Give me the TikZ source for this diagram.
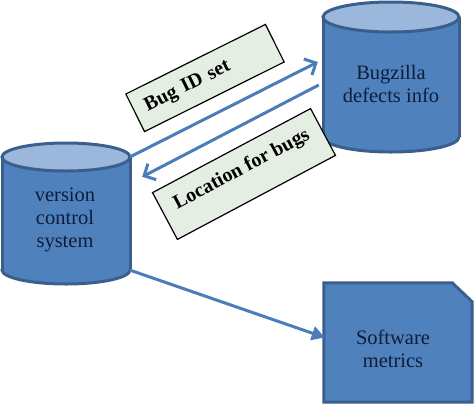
\documentclass[tikz,border=0pt]{standalone}
\usepackage{fontspec}
\setmainfont{Liberation Serif}
\usetikzlibrary{arrows.meta,calc}
\definecolor{cylbody}{HTML}{4F81BD}
\definecolor{cyltop}{HTML}{9BB7DB}
\definecolor{cylline}{HTML}{3A5F8C}
\definecolor{arrowc}{HTML}{4A7EBB}
\definecolor{lblfill}{HTML}{E4EEE2}
\definecolor{txtc}{HTML}{0F1D38}
\newcommand\drawcyl[5]{% cx, rx, ytop, ybot, ry
  \filldraw[outl,fill=cylbody] (#1,#4) ellipse [x radius=#2pt,y radius=#5pt];
  \fill[cylbody] ($(#1,#3)+(-#2,0)$) rectangle ($(#1,#4)+(#2,0)$);
  \draw[outl] ($(#1,#3)+(-#2,0)$) -- ($(#1,#4)+(-#2,0)$);
  \draw[outl] ($(#1,#3)+(#2,0)$) -- ($(#1,#4)+(#2,0)$);
  \filldraw[outl,fill=cyltop] (#1,#3) ellipse [x radius=#2pt,y radius=#5pt];
}
\begin{document}
\begin{tikzpicture}[x=1pt,y=-1pt,
  outl/.style={draw=cylline,line width=3pt},
  flow/.style={draw=arrowc,line width=3pt,-{Straight Barb[length=9pt,width=18pt]}},
  flowtri/.style={draw=arrowc,line width=3pt,-{Triangle[length=13pt,width=14pt]}},
  lbl/.style={draw=black,line width=1.2pt,fill=lblfill,inner ysep=0pt,
    font=\fontsize{20}{23}\selectfont\bfseries},
  cyltext/.style={text=txtc,align=center,font=\fontsize{20.5}{23}\selectfont},
  holder/.style={inner sep=0pt}]
\useasboundingbox (0,0) rectangle (474,405);

% version control system cylinder
\drawcyl{66}{64}{157}{270}{14}
\node[holder,minimum width=128,minimum height=113] (vcs) at (66,213.5) {};
\node[cyltext] (vcst) at (65,220) {version\\control\\system};

% Bugzilla cylinder
\drawcyl{391}{68}{17}{137}{15}
\node[holder,minimum width=136,minimum height=120] (bz) at (391,77) {};
\node[cyltext] (bzt) at (391,84) {Bugzilla\\defects info};

% Software metrics box
\node[holder,minimum width=148,minimum height=119] (sm) at (398,342.5) {};
\filldraw[outl,fill=cylbody] (sm.south west) -- (sm.north west)
  -- ($(sm.north east)+(-20,0)$) -- ($(sm.north east)+(0,19)$)
  -- (sm.south east) -- cycle;
\node[cyltext] (smt) at (393,349) {Software\\metrics};

% connectors
\draw[flow] (vcs.north east) -- ($(bz.west)+(-5,-15)$);
\draw[flow] ($(bz.west)+(-4,8)$) -- ($(vcs.north east)+(12,20)$);
\draw[flowtri] (vcs.south east) -- ($(sm.west)+(1,-5)$);

% labels
\node[lbl,rotate=26.5,minimum height=42,inner xsep=12pt,text width=132pt,align=left]
  (bid) at (205,78) {Bug ID set};
\node[lbl,rotate=28,minimum width=179,minimum height=53,inner xsep=0pt,text depth=14pt]
  (loc) at (244,174) {Location for bugs};
\end{tikzpicture}
\end{document}
